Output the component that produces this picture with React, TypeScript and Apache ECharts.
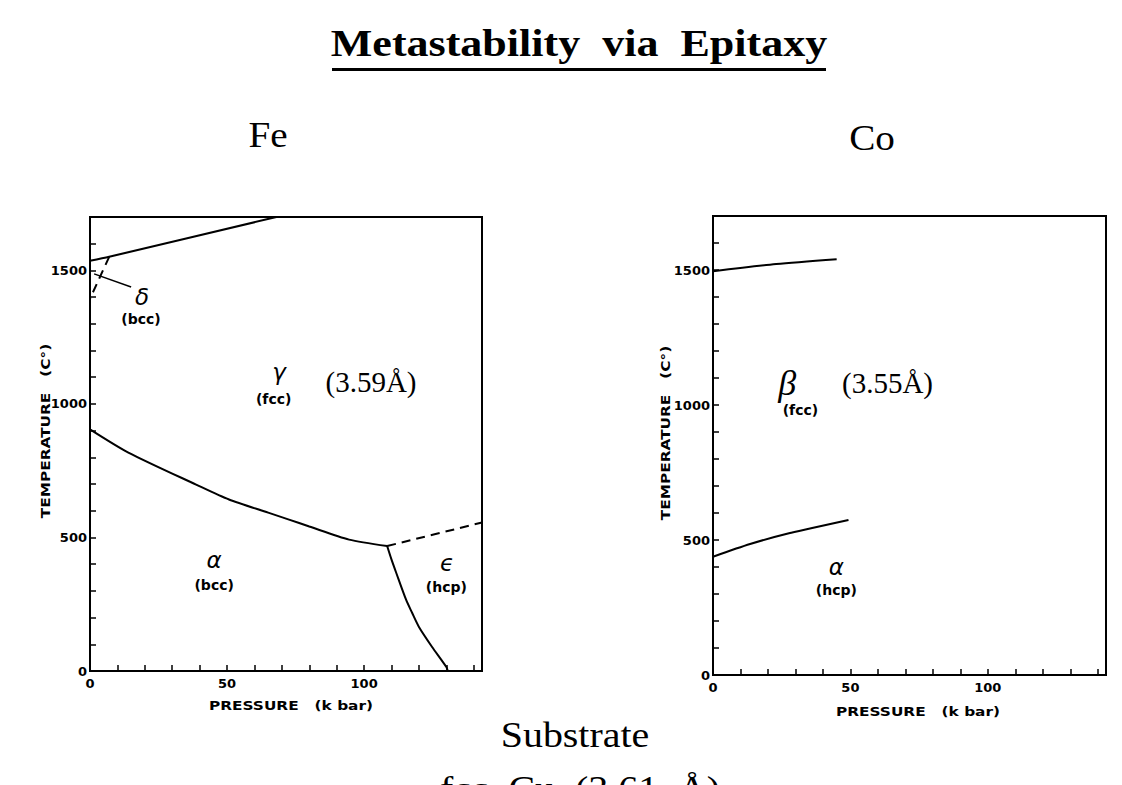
import React, { useEffect, useRef } from "react";
import * as echarts from "echarts";

// Pressure–temperature phase boundaries (kbar, °C)
const feLiquidus: number[][] = [[0, 1536], [7, 1551], [68, 1700]];
const feDeltaGamma: number[][] = [[7, 1551], [0, 1394]];
const feDeltaPointer: number[][] = [[15, 1438], [1.5, 1487]];
const feAlphaGamma: number[][] = [
  [0, 905], [14, 818], [38.7, 698], [50.7, 642], [65, 593],
  [72.6, 567], [80, 541], [94.5, 492], [108.4, 468],
];
const feGammaEpsilon: number[][] = [[108.4, 468], [143, 556]];
const feAlphaEpsilon: number[][] = [
  [108.4, 468], [110, 417], [111.7, 368], [115.3, 267], [117.5, 218],
  [120, 165], [124.8, 90], [130, 15], [130.5, 0],
];

const coLiquidus: number[][] = [[0, 1495], [23, 1522], [45, 1540]];
const coAlphaBeta: number[][] = [[0, 438], [13.5, 485], [28, 526], [49.3, 574]];

// Axis ranges and ticks
const pressureMax = 143;
const pressureStep = 10;
const pressureLabelStep = 50;
const tempMax = 1700;
const tempStep = 100;
const tempLabelStep = 500;

// Phase-region annotations: [pressure, temperature, text, kind]
type Note = [number, number, string, string];
const feNotes: Note[] = [
  [19, 1400, "δ", "greek"],
  [18.6, 1318, "(bcc)", "phase"],
  [69, 1119, "γ", "greek"],
  [67, 1017, "(fcc)", "phase"],
  [102.5, 1081, "(3.59Å)", "lattice"],
  [45.3, 417, "α", "greek"],
  [45.3, 323, "(bcc)", "phase"],
  [130.3, 405, "ϵ", "greek"],
  [130, 315, "(hcp)", "phase"],
];
const coNotes: Note[] = [
  [27, 1081, "β", "beta"],
  [31.8, 981, "(fcc)", "phase"],
  [63.5, 1081, "(3.55Å)", "lattice"],
  [44.9, 400, "α", "greek"],
  [44.9, 315, "(hcp)", "phase"],
];

const SANS = "DejaVu Sans";
const SERIF = "Liberation Serif";

const noteStyles: Record<string, any> = {
  greek: { fontFamily: SANS, fontSize: 23, fontStyle: "italic" },
  phase: { fontFamily: SANS, fontSize: 14, fontWeight: "bold" },
  lattice: { fontFamily: SERIF, fontSize: 29 },
  beta: { fontFamily: SERIF, fontSize: 36, fontStyle: "italic" },
};

function boundary(name: string, data: number[][], idx: number, dashed = false, width = 2) {
  return {
    name,
    type: "line",
    xAxisIndex: idx,
    yAxisIndex: idx,
    data,
    smooth: 0.25,
    showSymbol: false,
    symbol: "none",
    lineStyle: { color: "#000", width, type: dashed ? [9, 6] : "solid" },
    z: 3,
  };
}

function notes(list: Note[], idx: number) {
  return {
    type: "scatter",
    xAxisIndex: idx,
    yAxisIndex: idx,
    symbolSize: 0,
    silent: true,
    itemStyle: { opacity: 1, color: "#000" },
    data: list.map(([p, t, text, kind]) => ({
      value: [p, t],
      label: {
        show: true,
        position: "inside",
        formatter: text,
        color: "#000",
        opacity: 1,
        ...noteStyles[kind],
      },
    })),
    z: 4,
  };
}

const tickLabel = { color: "#000", fontFamily: SANS, fontSize: 13, fontWeight: "bold" };

function xAxis(idx: number) {
  return {
    type: "value",
    gridIndex: idx,
    min: 0,
    max: pressureMax,
    interval: pressureStep,
    splitLine: { show: false },
    axisLine: { lineStyle: { color: "#000", width: 2 } },
    axisTick: { inside: true, length: 6, lineStyle: { color: "#000", width: 1.5 } },
    axisLabel: {
      ...tickLabel,
      margin: 6,
      formatter: (v: number) => (v % pressureLabelStep === 0 ? String(v) : ""),
    },
  };
}

function yAxis(idx: number) {
  return {
    type: "value",
    gridIndex: idx,
    min: 0,
    max: tempMax,
    interval: tempStep,
    splitLine: { show: false },
    axisLine: { lineStyle: { color: "#000", width: 2 } },
    axisTick: { inside: true, length: 6, lineStyle: { color: "#000", width: 1.5 } },
    axisLabel: {
      ...tickLabel,
      margin: 3,
      formatter: (v: number) => (v % tempLabelStep === 0 ? String(v) : ""),
    },
  };
}

function axisTitle(text: string, x: number, y: number, vertical: boolean) {
  return {
    type: "text",
    x,
    y,
    rotation: vertical ? Math.PI / 2 : 0,
    scaleX: 1.18,
    style: {
      text,
      fontFamily: SANS,
      fontSize: 13,
      fontWeight: "bold",
      fill: "#000",
      align: "center",
      verticalAlign: "middle",
    },
  };
}

function heading(text: string, x: number, y: number, size: number, stretch: number, bold = false) {
  return {
    type: "text",
    x,
    y,
    scaleX: stretch,
    style: {
      text,
      fontFamily: SERIF,
      fontSize: size,
      fontWeight: bold ? "bold" : "normal",
      fill: "#000",
      align: "center",
      verticalAlign: "middle",
    },
  };
}

export default function App() {
  const ref = useRef<HTMLDivElement>(null);

  useEffect(() => {
    if (!ref.current) return;
    const chart = echarts.init(ref.current, null, { renderer: "svg" });
    chart.setOption({
      animation: false,
      backgroundColor: "#fff",
      grid: [
        { left: 90, top: 217, width: 392, height: 454, show: true, borderColor: "#000", borderWidth: 2 },
        { left: 713, top: 216, width: 393, height: 459, show: true, borderColor: "#000", borderWidth: 2 },
      ],
      xAxis: [xAxis(0), xAxis(1)],
      yAxis: [yAxis(0), yAxis(1)],
      series: [
        boundary("Fe liquidus", feLiquidus, 0),
        boundary("Fe δ/γ", feDeltaGamma, 0, true),
        boundary("Fe δ pointer", feDeltaPointer, 0, false, 1.5),
        boundary("Fe α/γ", feAlphaGamma, 0),
        boundary("Fe γ/ε", feGammaEpsilon, 0, true),
        boundary("Fe α/ε", feAlphaEpsilon, 0),
        boundary("Co liquidus", coLiquidus, 1),
        boundary("Co α/β", coAlphaBeta, 1),
        notes(feNotes, 0),
        notes(coNotes, 1),
      ],
      graphic: [
        heading("Metastability  via  Epitaxy", 579, 44, 37, 1.19, true),
        { type: "rect", shape: { x: 332, y: 68, width: 494, height: 3 }, style: { fill: "#000" } },
        heading("Fe", 268, 135, 35, 1.12),
        heading("Co", 872, 138, 35, 1.12),
        heading("Substrate", 575, 735, 35, 1.14),
        heading("fcc  Cu  (3.61  Å)", 580, 789, 35, 1.14),
        axisTitle("TEMPERATURE   (C°)", 45, 431, true),
        axisTitle("PRESSURE   (k bar)", 291, 705, false),
        axisTitle("TEMPERATURE   (C°)", 665, 433, true),
        axisTitle("PRESSURE   (k bar)", 918, 711, false),
      ],
    });
    return () => chart.dispose();
  }, []);

  return (
    <div
      ref={ref}
      style={{ position: "fixed", left: 0, top: 0, width: 1122, height: 785, background: "#fff" }}
    />
  );
}
